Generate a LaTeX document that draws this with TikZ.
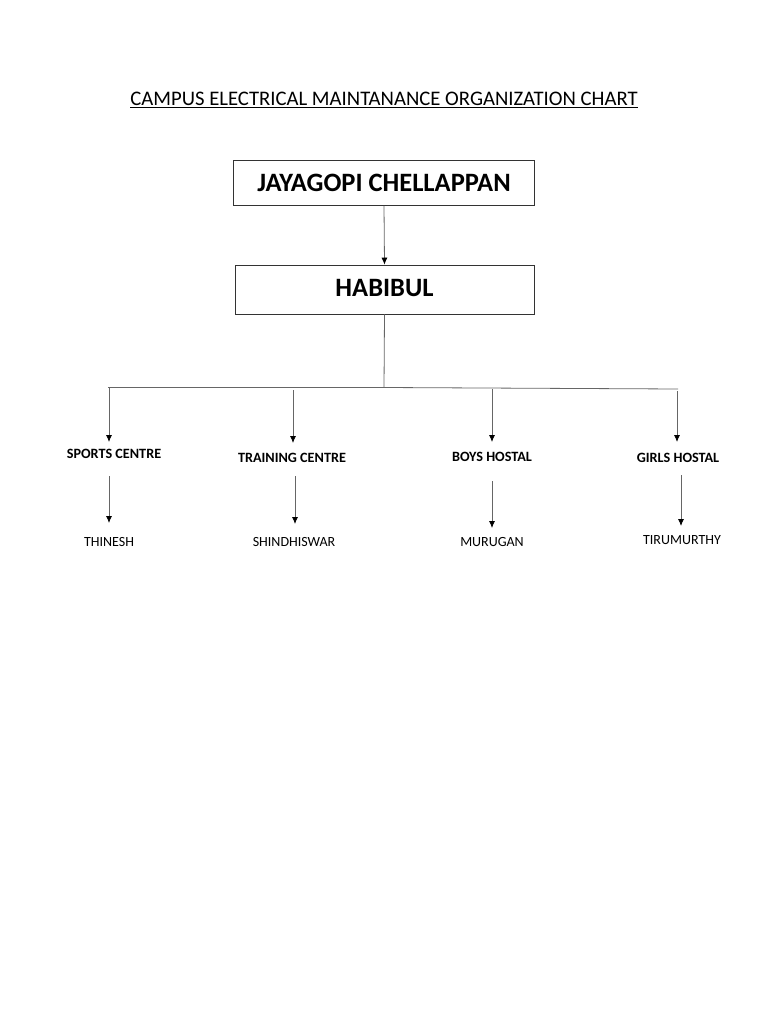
\documentclass[tikz,border=0pt]{standalone}
\usepackage{fontspec}
\setmainfont{Carlito}
\usetikzlibrary{arrows.meta}
\tikzset{
  box/.style={draw=black!80, line width=0.8pt, minimum width=301pt, minimum height=45pt, inner sep=0pt,
    font=\fontsize{26.5}{30}\selectfont\bfseries},
  dept/.style={inner sep=1pt, font=\fontsize{14.2}{16}\selectfont\bfseries},
  person/.style={inner sep=1pt, font=\fontsize{14}{16}\selectfont},
  conn/.style={draw=black!60, line width=0.8pt},
  arr/.style={conn, -{Latex[length=7pt,width=6pt,black]}},
}
\begin{document}
\begin{tikzpicture}[x=1pt,y=-1pt]
\useasboundingbox (0,0) rectangle (768,1024);
\node[font=\fontsize{20.7}{24}\selectfont] (title) at (384,100) {\underline{CAMPUS ELECTRICAL MAINTANANCE ORGANIZATION CHART}};
\node[box] (boss) at (384,183) {JAYAGOPI CHELLAPPAN};
\node[box, minimum width=299pt, minimum height=49pt] (hab) at (384.5,289.5) {\raisebox{3pt}{HABIBUL}};
\coordinate (hj) at (384,387.5);
\coordinate (hl) at (108,387.5);
\coordinate (hr) at (678,389);
\draw[arr] (boss.south) -- (hab.north);
\draw[conn] (hab.south) -- (hj);
\draw[conn] (hl) -- (hj) -- (hr);

\node[dept] (d1) at (114,454) {SPORTS CENTRE};
\node[dept] (d2) at (292,458) {TRAINING CENTRE};
\node[dept] (d3) at (492,457) {BOYS HOSTAL};
\node[dept] (d4) at (678,458) {GIRLS HOSTAL};

\coordinate (t1) at (109,388);
\coordinate (t2) at (293,390);
\coordinate (t3) at (492,389);
\coordinate (t4) at (677,391);
\coordinate (e1) at (109,442);
\coordinate (e2) at (293,443);
\coordinate (e3) at (492,442);
\coordinate (e4) at (677,442);
\draw[arr] (t1) -- (e1);
\draw[arr] (t2) -- (e2);
\draw[arr] (t3) -- (e3);
\draw[arr] (t4) -- (e4);

\node[person] (p1) at (109,542) {THINESH};
\node[person] (p2) at (294,542) {SHINDHISWAR};
\node[person] (p3) at (492,542) {MURUGAN};
\node[person] (p4) at (682,540) {TIRUMURTHY};

\coordinate (s1) at (109,476);
\coordinate (s2) at (295,476);
\coordinate (s3) at (492,481);
\coordinate (s4) at (681,475);
\coordinate (f1) at (109,523);
\coordinate (f2) at (295,524);
\coordinate (f3) at (492,528);
\coordinate (f4) at (681,526);
\draw[arr] (s1) -- (f1);
\draw[arr] (s2) -- (f2);
\draw[arr] (s3) -- (f3);
\draw[arr] (s4) -- (f4);
\end{tikzpicture}
\end{document}
